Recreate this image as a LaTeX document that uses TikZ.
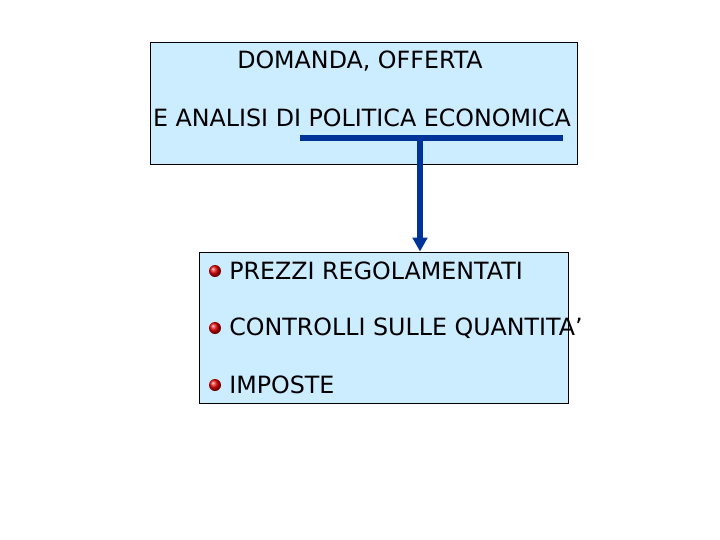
\documentclass[tikz,border=0pt]{standalone}
\usepackage{fontspec}
\setmainfont{DejaVu Sans}
\usepackage{tikz}
\usetikzlibrary{arrows.meta}
\definecolor{boxblue}{RGB}{204,236,255}
\definecolor{linkblue}{RGB}{0,51,153}

\begin{document}
\begin{tikzpicture}[
			panel/.style={draw=black,fill=boxblue,line width=0.6pt,inner sep=0pt},
			label/.style={font=\fontsize{16.9}{20}\selectfont,inner sep=0pt},
			item/.style={label,anchor=west},
			bullet/.style={circle,inner sep=0pt,minimum size=0.3cm,ball color=red!90!black},
			link/.style={draw=linkblue,line width=4pt},
			]
			\useasboundingbox (0,0) rectangle (18,-13.5);
			
			%% Boxes
			\node[panel,minimum width=10.675cm,minimum height=3.05cm] (title) at (9.0875,-2.575) {};
			\node[panel,minimum width=9.225cm,minimum height=3.775cm] (policy) at (9.5875,-8.1875) {};
			
			\node[label] (line1) at (9.0,-1.525) {DOMANDA, OFFERTA};
			\node[label] (line2) at (9.05,-2.95) {E ANALISI DI POLITICA ECONOMICA};
			
			%% Items
			\node[bullet] (b1) at (5.375,-6.775) {};
			\node[bullet] (b2) at (5.375,-8.2) {};
			\node[bullet] (b3) at (5.375,-9.625) {};
			\node[item] (prezzi) at (5.725,-6.775) {PREZZI REGOLAMENTATI};
			\node[item] (controlli) at (5.725,-8.2) {CONTROLLI SULLE QUANTITA’};
			\node[item] (imposte) at (5.725,-9.625) {IMPOSTE};
			
			%% Connector
			\coordinate (barL) at (7.5,-3.45);
			\coordinate (barR) at (14.075,-3.45);
			\coordinate (barM) at (10.5,-3.45);
			\draw[link] (barL) -- (barR);
			\draw[link,-{Triangle[length=0.35cm,width=0.36cm]}] (barM) -- (barM |- policy.north);
			
			\end{tikzpicture}
\end{document}
